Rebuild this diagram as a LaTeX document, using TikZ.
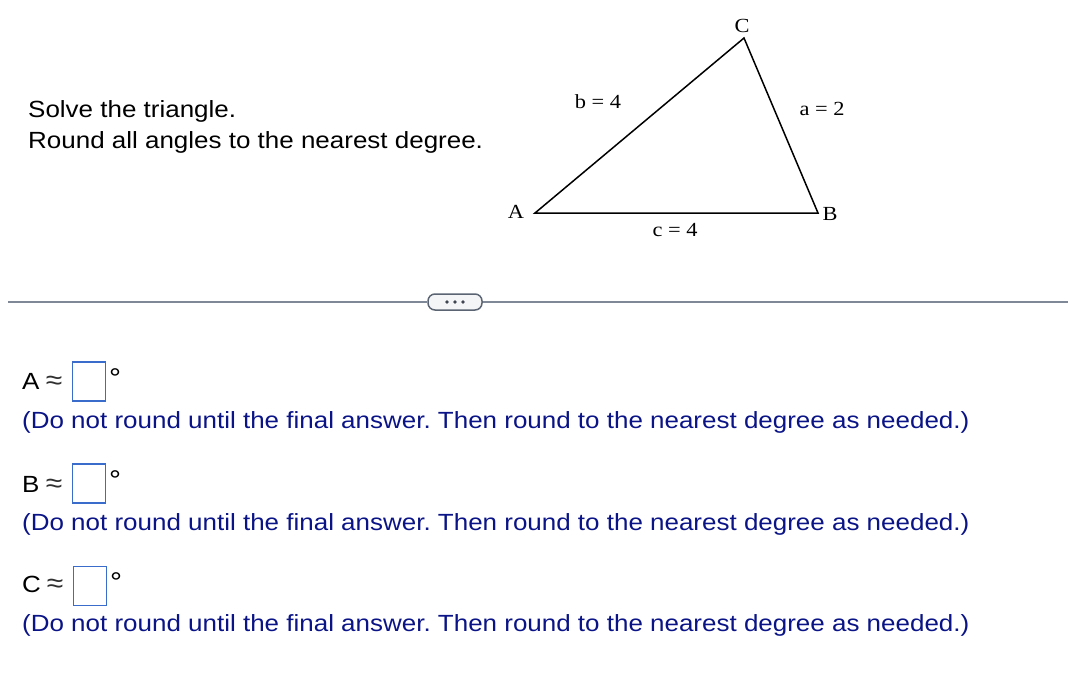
\documentclass[tikz,border=0pt]{standalone}
\usepackage{fontspec}
\setmainfont{Liberation Sans}[FakeStretch=1.11]
\newfontfamily\trifont{Liberation Serif}[FakeStretch=1.12]
\definecolor{navy}{HTML}{0A1486}
\definecolor{boxblue}{HTML}{3A6CCB}
\definecolor{sepgray}{HTML}{7F8896}
\definecolor{btnborder}{HTML}{5B6472}
\definecolor{btnfill}{HTML}{F4F5F7}
\definecolor{dotgray}{HTML}{3E4450}
\definecolor{approxgray}{HTML}{303030}
\frenchspacing
\begin{document}
\begin{tikzpicture}[x=1pt,y=-1pt,
  txt/.style={anchor=base west,inner sep=0pt,font=\fontsize{23.4}{28}\selectfont},
  note/.style={txt,text=navy},
  approx/.style={anchor=base,inner sep=0pt,text=approxgray,font=\fontsize{27}{30}\selectfont},
  tri/.style={inner sep=0pt,font=\trifont\fontsize{20}{24}\selectfont},
  ansbox/.style={draw=boxblue,line width=1.3pt,minimum width=33pt,minimum height=39pt,inner sep=0pt},
  deg/.style={anchor=base,inner sep=0pt,font=\fontsize{27}{30}\selectfont},
  edge/.style={line width=1.5pt,black},
  sep/.style={line width=1.6pt,sepgray},
  btn/.style={draw=btnborder,fill=btnfill,line width=1.5pt,rounded corners=7pt,minimum width=54pt,minimum height=16pt,inner sep=0pt}
]
\useasboundingbox (0,0) rectangle (1068,678);

% instructions
\node[txt] (solve) at (28,117) {Solve the triangle.};
\node[txt] (round) at (28,148) {Round all angles to the nearest degree.};

% triangle
\coordinate (A) at (535,213);
\coordinate (B) at (818,213);
\coordinate (C) at (744,38);
\draw[edge,line join=miter] (A) -- (B) -- (C) -- cycle;
\node[tri] (lC) at (742,26) {C};
\node[tri] (lA) at (516,212) {A};
\node[tri] (lB) at (830,214) {B};
\node[tri] (lb) at (598,102) {b = 4};
\node[tri] (la) at (822,109) {a = 2};
\node[tri] (lc) at (675,230) {c = 4};

% separator
\node[btn] (more) at (455,302) {};
\coordinate (sepL) at (8,302);
\coordinate (sepR) at (1068,302);
\draw[sep] (sepL) -- (more.west);
\draw[sep] (more.east) -- (sepR);
\foreach \dx in {-8,0,8} \fill[dotgray] ([xshift=\dx pt]more.center) circle (1.8pt);

% answer A
\node[txt] (angA) at (22,389) {A};
\node[approx] (apA) at (54,389) {≈};
\node[ansbox] (boxA) at (89,381.5) {};
\node[deg] (degA) at (115,387) {°};
\node[note] (noteA) at (22,428) {(Do not round until the final answer. Then round to the nearest degree as needed.)};

% answer B
\node[txt] (angB) at (22,492) {B};
\node[approx] (apB) at (54,492) {≈};
\node[ansbox] (boxB) at (89,483.5) {};
\node[deg] (degB) at (115,489) {°};
\node[note] (noteB) at (22,530) {(Do not round until the final answer. Then round to the nearest degree as needed.)};

% answer C
\node[txt] (angC) at (22,592) {C};
\node[approx] (apC) at (55,592) {≈};
\node[ansbox] (boxC) at (90,586) {};
\node[deg] (degC) at (116,591) {°};
\node[note] (noteC) at (22,631) {(Do not round until the final answer. Then round to the nearest degree as needed.)};
\end{tikzpicture}
\end{document}
